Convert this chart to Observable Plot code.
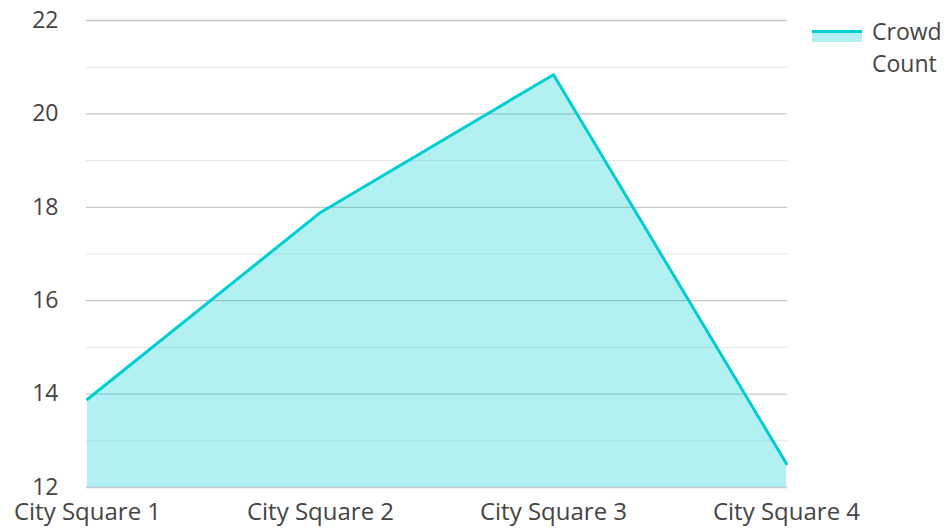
<!DOCTYPE html>
<html><head><meta charset="utf-8">
<script src="https://cdn.jsdelivr.net/npm/d3@7"></script>
<script src="https://cdn.jsdelivr.net/npm/@observablehq/plot@0.6"></script>
<style>
body{margin:0;background:#fff;font-family:"Open Sans",sans-serif;}
#wrap{position:relative;width:947px;height:529px;}
#legend{position:absolute;left:812px;top:15px;display:flex;align-items:flex-start;font-size:23px;color:#444;line-height:32px;}
#sw{width:50px;height:14px;margin-top:14px;margin-right:10px;position:relative;}
#sw .fill{position:absolute;left:0;top:3px;width:50px;height:10px;background:rgba(0,206,209,0.3);}
#sw .ln{position:absolute;left:0;top:1px;width:50px;height:3px;background:#00CED1;}
</style></head><body>
<div id="wrap"><div id="legend"><div id="sw"><div class="fill"></div><div class="ln"></div></div><div>Crowd<br>Count</div></div></div>
<script>
const categories = ["City Square 1","City Square 2","City Square 3","City Square 4"];
const crowdCount = [13.89, 17.89, 20.84, 12.51];
const majorTicks = [12,14,16,18,20,22];
const minorTicks = [13,15,17,19,21];
const data = categories.map((c,i)=>({cat:c, v:crowdCount[i]}));
const chart = Plot.plot({
  width:947, height:529,
  marginLeft:86, marginRight:160, marginTop:20, marginBottom:42,
  style:{fontFamily:"Open Sans, sans-serif", fontSize:"23px", color:"#444", background:"transparent", overflow:"visible"},
  x:{type:"point", domain:categories, padding:0, label:null},
  y:{domain:[12,22], label:null},
  marks:[
    Plot.ruleY(minorTicks,{stroke:"#e5e5e5", strokeWidth:1}),
    Plot.ruleY(majorTicks,{stroke:"#c8c8c8", strokeWidth:1.3}),
    Plot.areaY(data,{x:"cat", y1:12, y2:"v", fill:"#00CED1", fillOpacity:0.3}),
    Plot.lineY(data,{x:"cat", y:"v", stroke:"#00CED1", strokeWidth:3}),
    Plot.axisY(majorTicks,{tickSize:0, tickPadding:28, fontSize:23, fill:"#444"}),
    Plot.axisX(categories,{tickSize:0, tickPadding:15, fontSize:24, fill:"#444"})
  ]
});
document.getElementById("wrap").prepend(chart);
</script></body></html>
